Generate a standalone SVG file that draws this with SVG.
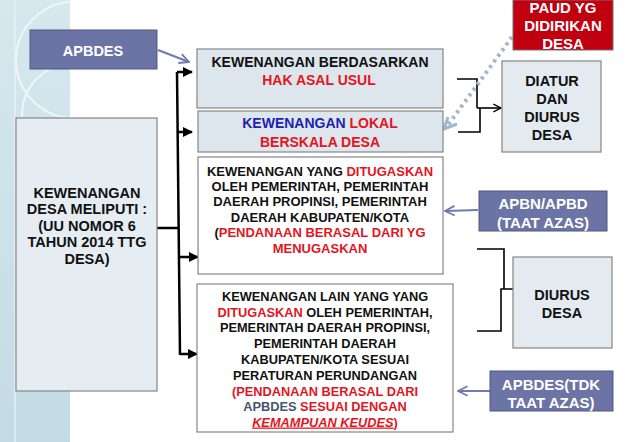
<svg xmlns="http://www.w3.org/2000/svg" width="638" height="442" viewBox="0 0 638 442">
<style>
text{font-family:"Liberation Sans",Arial,sans-serif;font-weight:bold;text-anchor:middle;fill:#111}
.r{fill:#e3151e}
.b{fill:#1d22b0}
.s{fill:#46546e}
.w{fill:#fff}
.box{stroke:#858585;stroke-width:1.2}
.lb{fill:#dde5ed}
.wh{fill:#fff}
.sl{fill:#6b74a4;stroke:#4f5886;stroke-width:1}
.con{fill:none;stroke:#000;stroke-width:2.5}
.thin{fill:none;stroke:#000;stroke-width:1.6}
.bl{fill:none;stroke:#6f7aad;stroke-width:2}
</style>
<defs>
<linearGradient id="strip" x1="0" y1="0" x2="0" y2="1">
<stop offset="0" stop-color="#d6e8ee"/>
<stop offset="1" stop-color="#c3dbe5"/>
</linearGradient>
<clipPath id="sc"><rect x="0" y="0" width="70" height="442"/></clipPath>
<marker id="ah" viewBox="0 0 10 10" refX="9" refY="5" markerWidth="4" markerHeight="4" orient="auto"><path d="M0,0 L10,5 L0,10 z" fill="#000"/></marker>
<marker id="oa" viewBox="0 0 10 10" refX="9" refY="5" markerWidth="6" markerHeight="6" orient="auto"><path d="M1,1 L9,5 L1,9" fill="none" stroke="#000" stroke-width="1.3"/></marker>
<marker id="ob" viewBox="0 0 10 10" refX="9" refY="5" markerWidth="6" markerHeight="6" orient="auto"><path d="M1,1 L9,5 L1,9" fill="none" stroke="#6f7aad" stroke-width="1.5"/></marker>
</defs>
<rect width="638" height="442" fill="#fff"/>
<g id="background">
<rect x="0" y="0" width="70" height="442" fill="url(#strip)"/>
<line x1="15" y1="0" x2="15" y2="442" stroke="#e6f1f4" stroke-width="1.5"/>
<g clip-path="url(#sc)" fill="none" stroke="#eef6f8" stroke-width="2">
<circle cx="74" cy="60" r="58"/>
<circle cx="74" cy="115" r="52"/>
</g>
</g>
<g id="connectors">
<polyline class="con" points="157,228 178,228"/>
<line class="con" x1="177" y1="72" x2="180" y2="355"/>
<line class="con" x1="177" y1="72" x2="192" y2="72" marker-end="url(#ah)"/>
<line class="con" x1="178" y1="132" x2="192" y2="132" marker-end="url(#ah)"/>
<line class="con" x1="179" y1="257" x2="198" y2="257" marker-end="url(#ah)"/>
<line class="con" x1="180" y1="354" x2="197" y2="354" marker-end="url(#ah)"/>
<polyline class="thin" points="457,79 477,79 477,108"/>
<polyline class="thin" points="458,132 480,132 480,108"/>
<line class="thin" x1="477" y1="108" x2="501" y2="108" stroke-width="1.2" marker-end="url(#oa)"/>
<polyline class="thin" points="477,249 504,249 504,289"/>
<polyline class="thin" points="477,331 501,331 501,289 513,289"/>
<line class="bl" x1="158" y1="50" x2="189" y2="62" marker-end="url(#ob)"/>
<line class="bl" x1="478" y1="210" x2="445" y2="211" marker-end="url(#ob)"/>
<line class="bl" x1="490" y1="391" x2="458" y2="391" marker-end="url(#ob)"/>
<line x1="512" y1="37" x2="448" y2="125" stroke="#9fb6cc" stroke-width="4" stroke-dasharray="3 4"/>
<path d="M448,117 L444,129 L457,124" fill="none" stroke="#9fb6cc" stroke-width="3"/>
</g>
<g id="apbdes">
<rect class="sl" x="30" y="30" width="127" height="39"/>
<text class="w" x="93" y="56" font-size="14.5">APBDES</text>
</g>
<g id="kewenangan-desa">
<rect class="box" x="16" y="118" width="141" height="273" fill="#e6edf2"/>
<text x="87" y="197.5" font-size="14.5">KEWENANGAN</text>
<text x="87" y="214" font-size="14.5">DESA MELIPUTI :</text>
<text x="87" y="230.5" font-size="14.5">(UU NOMOR 6</text>
<text x="87" y="247" font-size="14.5">TAHUN 2014 TTG</text>
<text x="87" y="263.5" font-size="14.5">DESA)</text>
</g>
<g id="hak-asal-usul">
<rect class="box lb" x="197" y="49" width="246" height="59"/>
<text x="320" y="67" font-size="14">KEWENANGAN BERDASARKAN</text>
<text class="r" x="319" y="85" font-size="14">HAK ASAL USUL</text>
</g>
<g id="lokal">
<rect class="box lb" x="198" y="111" width="245" height="41"/>
<text x="320" y="128" font-size="14"><tspan class="b">KEWENANGAN</tspan><tspan class="r"> LOKAL</tspan></text>
<text class="r" x="320" y="146.5" font-size="14">BERSKALA DESA</text>
</g>
<g id="ditugaskan">
<rect class="box wh" x="198" y="157" width="245" height="117"/>
<text x="320" y="175.5" font-size="13">KEWENANGAN YANG <tspan class="r">DITUGASKAN</tspan></text>
<text x="320" y="190.5" font-size="13">OLEH PEMERINTAH, PEMERINTAH</text>
<text x="320" y="206" font-size="13">DAERAH PROPINSI, PEMERINTAH</text>
<text x="320" y="221.5" font-size="13">DAERAH KABUPATEN/KOTA</text>
<text x="320" y="237" font-size="13">(<tspan class="r">PENDANAAN BERASAL DARI YG</tspan></text>
<text class="r" x="320" y="252.5" font-size="13">MENUGASKAN</text>
</g>
<g id="lain">
<rect class="box wh" x="197" y="284" width="256" height="148"/>
<text x="325" y="300.5" font-size="12.8">KEWENANGAN LAIN YANG YANG</text>
<text x="325" y="316.5" font-size="12.8"><tspan class="r">DITUGASKAN</tspan> OLEH PEMERINTAH,</text>
<text x="325" y="331.5" font-size="12.8">PEMERINTAH DAERAH PROPINSI,</text>
<text x="325" y="347.5" font-size="12.8">PEMERINTAH DAERAH</text>
<text x="325" y="363.5" font-size="12.8">KABUPATEN/KOTA SESUAI</text>
<text x="325" y="379.5" font-size="12.8">PERATURAN PERUNDANGAN</text>
<text class="r" x="325" y="395.5" font-size="12.8">(PENDANAAN BERASAL DARI</text>
<text x="325" y="410.5" font-size="12.8"><tspan class="s">APBDES</tspan><tspan class="r"> SESUAI DENGAN</tspan></text>
<text x="325" y="426.5" font-size="12.8"><tspan class="r" font-style="italic" text-decoration="underline">KEMAMPUAN KEUDES</tspan><tspan class="r">)</tspan></text>
</g>
<g id="paud">
<rect x="513" y="0" width="100" height="50" fill="#c0000e" stroke="#7a6a7a" stroke-width="1"/>
<text class="w" x="563" y="12.5" font-size="15">PAUD YG</text>
<text class="w" x="563" y="31" font-size="15">DIDIRIKAN</text>
<text class="w" x="563" y="48.5" font-size="15">DESA</text>
</g>
<g id="diatur">
<rect class="box" x="502" y="61" width="99" height="91" fill="#e3eaf0"/>
<text x="552" y="85.5" font-size="14.5">DIATUR</text>
<text x="552" y="103.5" font-size="14.5">DAN</text>
<text x="552" y="121.5" font-size="14.5">DIURUS</text>
<text x="552" y="139.5" font-size="14.5">DESA</text>
</g>
<g id="apbn">
<rect class="sl" x="479" y="191" width="128" height="40"/>
<text class="w" x="543" y="208.5" font-size="15">APBN/APBD</text>
<text class="w" x="543" y="227.5" font-size="15">(TAAT AZAS)</text>
</g>
<g id="diurus">
<rect class="box" x="513" y="257" width="99" height="91" fill="#e3eaf0"/>
<text x="562" y="300" font-size="14.5">DIURUS</text>
<text x="562" y="318" font-size="14.5">DESA</text>
</g>
<g id="apbdes-tdk">
<rect class="sl" x="490" y="371" width="123" height="40"/>
<text class="w" x="551" y="389.5" font-size="15">APBDES(TDK</text>
<text class="w" x="551" y="407.5" font-size="15">TAAT AZAS)</text>
</g>
</svg>
